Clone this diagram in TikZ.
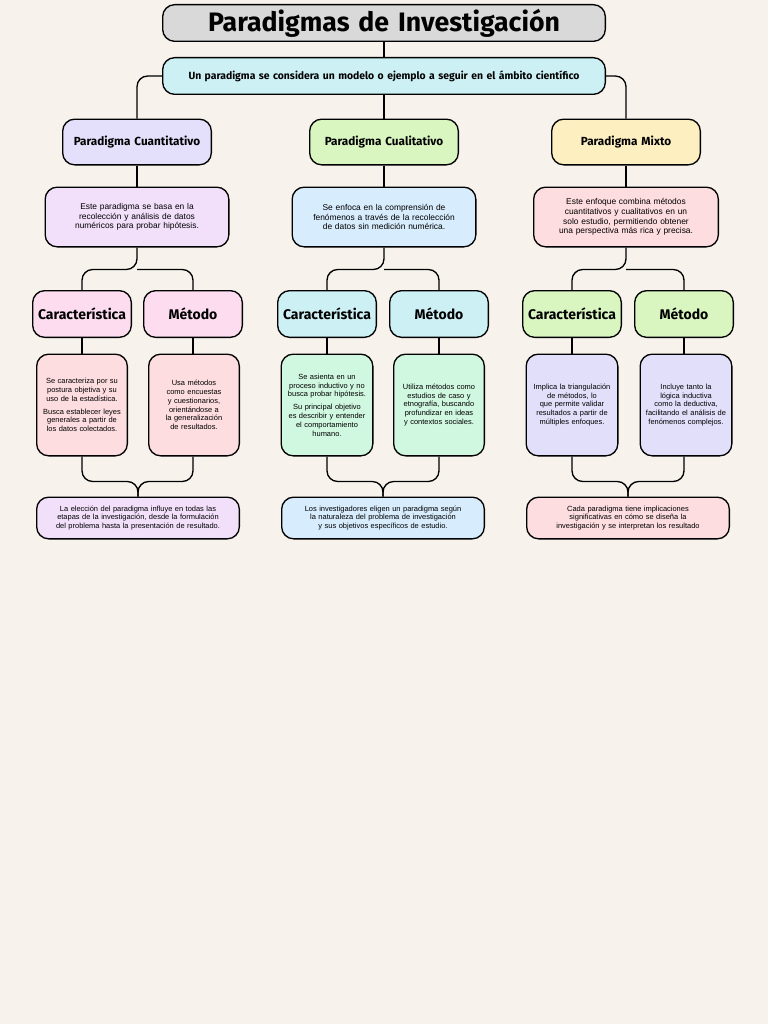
\documentclass[tikz,border=0pt]{standalone}
\usepackage{fontspec}
\setmainfont{Liberation Sans}
\newfontfamily\hd{Fira Sans}
\begin{document}
\hyphenpenalty=10000 \exhyphenpenalty=10000
\begin{tikzpicture}[x=0.75pt,y=-0.75pt,
 bx/.style={draw=black,line width=1pt,rounded corners=9pt,align=center,inner sep=1pt},
 ln/.style={line width=1pt,rounded corners=8pt}]
\definecolor{bg}{HTML}{F7F3EC}
\fill[bg] (0,0) rectangle (768,1024);
\useasboundingbox (0,0) rectangle (768,1024);
\newcommand\bxx[9]{\node[bx,fill=#6,minimum width=#4*0.75pt-1pt,minimum height=#5*0.75pt-1pt,text width=#4*0.75pt-#9,font=#7] (#1) at (#2,#3) {#8};}
\definecolor{gr}{HTML}{D9D9D9}\definecolor{cy}{HTML}{CDF0F5}
\definecolor{lv}{HTML}{E4E0FB}\definecolor{gn}{HTML}{D9F5C0}\definecolor{yl}{HTML}{FDEFC0}
\definecolor{pu}{HTML}{F2E0FB}\definecolor{bl}{HTML}{D7ECFD}\definecolor{pk}{HTML}{FDDDE0}
\definecolor{pp}{HTML}{FDDCF0}\definecolor{mt}{HTML}{D0F7E0}\definecolor{lv2}{HTML}{E2DFFB}
\def\sm{\fontsize{5.6}{6.6}\selectfont}
\bxx{t}{384}{23}{444}{38}{gr}{\hd\bfseries\fontsize{20}{24}\selectfont}{Paradigmas de Investigación}{12pt}
\bxx{s}{384}{76}{444}{38}{cy}{\hd\bfseries\fontsize{7.8}{9}\selectfont}{Un paradigma se considera un modelo o ejemplo a seguir en el ámbito científico}{8pt}
\bxx{h1}{137}{142}{150}{47}{lv}{\hd\bfseries\fontsize{8.8}{10}\selectfont}{Paradigma Cuantitativo}{6pt}
\bxx{h2}{384}{142}{150}{47}{gn}{\hd\bfseries\fontsize{8.8}{10}\selectfont}{Paradigma Cualitativo}{6pt}
\bxx{h3}{626}{142}{150}{47}{yl}{\hd\bfseries\fontsize{8.8}{10}\selectfont}{Paradigma Mixto}{6pt}
\bxx{d1}{137}{217}{185}{61}{pu}{\fontsize{6.3}{7.3}\selectfont}{Este paradigma se basa en la recolección y análisis de datos numéricos para probar hipótesis.}{22pt}
\bxx{d2}{384}{217}{185}{61}{bl}{\fontsize{6.3}{7.3}\selectfont}{Se enfoca en la comprensión de fenómenos a través de la recolección de datos sin medición numérica.}{22pt}
\bxx{d3}{626}{217}{186}{61}{pk}{\fontsize{6.3}{7.3}\selectfont}{Este enfoque combina métodos cuantitativos y cualitativos en un solo estudio, permitiendo obtener una perspectiva más rica y precisa.}{18pt}
\foreach \n/\x/\c/\w in {c1/82/pp/Característica,m1/193/pp/Método,c2/327/cy/Característica,m2/439/cy/Método,c3/572/gn/Característica,m3/684/gn/Método}{
 \node[bx,fill=\c,minimum width=74pt,minimum height=35pt,font=\hd\bfseries\fontsize{10.5}{12}\selectfont] (\n) at (\x,314) {\w};}
\bxx{a1}{82}{405}{92}{103}{pk}{\sm}{Se caracteriza por su postura objetiva y su uso de la estadística.\\[3pt] Busca establecer leyes generales a partir de los datos colectados.}{8pt}
\bxx{b1}{194}{405}{92}{103}{pk}{\sm}{Usa métodos como encuestas y cuestionarios, orientándose a la generalización de resultados.}{8pt}
\bxx{a2}{327}{405}{93}{103}{mt}{\sm}{Se asienta en un proceso inductivo y no busca probar hipótesis.\\[3pt] Su principal objetivo es describir y entender el comportamiento humano.}{10pt}
\bxx{b2}{439}{405}{92}{103}{mt}{\sm}{Utiliza métodos como estudios de caso y etnografía, buscando profundizar en ideas y contextos sociales.}{6pt}
\bxx{a3}{572}{405}{93}{103}{lv2}{\sm}{Implica la triangulación de métodos, lo que permite validar resultados a partir de múltiples enfoques.}{10pt}
\bxx{b3}{686}{405}{93}{103}{lv2}{\sm}{Incluye tanto la lógica inductiva como la deductiva, facilitando el análisis de fenómenos complejos.}{8pt}
\bxx{e1}{138}{518}{204}{43}{pu}{\sm}{La elección del paradigma influye en todas las etapas de la investigación, desde la formulación del problema hasta la presentación de resultado.}{12pt}
\bxx{e2}{383}{518}{204}{43}{bl}{\sm}{Los investigadores eligen un paradigma según la naturaleza del problema de investigación y sus objetivos específicos de estudio.}{14pt}
\bxx{e3}{628}{518}{204}{43}{pk}{\sm}{Cada paradigma tiene implicaciones significativas en cómo se diseña la investigación y se interpretan los resultado}{38pt}
\draw[ln] (t) -- (s);
\draw[ln] (s.west) -- ++(-25,0) -- (h1.north-|137,0);
\draw[ln] (s.east) -- ++(20,0) -- (h3.north-|626,0);
\draw[ln] (s) -- (h2);
\foreach \i in {1,2,3}{
 \draw[ln] (h\i) -- (d\i);
 \draw[ln] (d\i.south) -- ++(0,22) -| (c\i.north);
 \draw[ln] (d\i.south) ++(0,22) -| (m\i.north);
 \draw[ln] (c\i) -- (c\i.south|-a\i.north);
 \draw[ln] (m\i) -- (m\i.south|-b\i.north);
 \draw[ln] (a\i.south-|c\i) -- ++(0,25) -| (e\i.north);
 \draw[ln] (b\i.south-|m\i) -- ++(0,25) -| (e\i.north);
}
\end{tikzpicture}
\end{document}
